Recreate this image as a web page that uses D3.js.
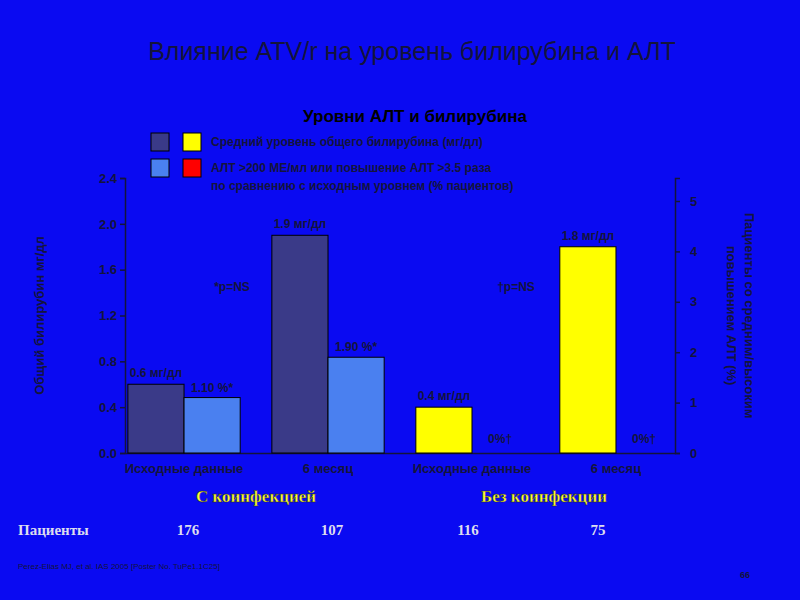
<!DOCTYPE html>
<html><head><meta charset="utf-8"><script src="https://cdn.jsdelivr.net/npm/d3@7"></script>
<style>body{margin:0;background:#0a0af2}svg{font-family:"Liberation Sans",Arial,sans-serif}</style></head>
<body><svg id="c" width="800" height="600"></svg>
<script>
const categories=["Исходные данные","6 месяц","Исходные данные","6 месяц"];
const bilirubin=[0.6,1.9,0.4,1.8];
const alt=[1.1,1.9,0,0];
const biliLabels=["0.6 мг/дл","1.9 мг/дл","0.4 мг/дл","1.8 мг/дл"];
const altLabels=["1.10 %*","1.90 %*","0%†","0%†"];
const groups=["С коинфекцией","Без коинфекции"];
const patients=[176,107,116,75];
const leftTicks=[0,0.4,0.8,1.2,1.6,2.0,2.4];
const rightTicks=[0,1,2,3,4,5];
const txt="#14143c";
const svg=d3.select("#c");
const L=125,R=675,T=178,B=453;
const x=d3.scaleBand().domain(d3.range(4)).range([L,R]).paddingInner(0.22).paddingOuter(0.02);
const x1=d3.scaleBand().domain([0,1]).range([0,x.bandwidth()]);
const y=d3.scaleLinear().domain([0,2.4]).range([B,T]);
const y2=d3.scaleLinear().domain([0,(B-T)/50.4]).range([B,T]);
svg.append("text").attr("x",412).attr("y",60).attr("text-anchor","middle").attr("font-size",25).attr("fill",txt).text("Влияние ATV/r на уровень билирубина и АЛТ");
svg.append("text").attr("x",415).attr("y",122).attr("text-anchor","middle").attr("font-size",17).attr("font-weight","bold").attr("fill","#000").text("Уровни АЛТ и билирубина");
const lg=[["#3a3a88","#ffff00",142,"Средний уровень общего билирубина (мг/дл)"],["#4a80f0","#ff0000",168,"АЛТ >200 МЕ/мл или повышение АЛТ >3.5 раза"]];
lg.forEach(d=>{svg.append("rect").attr("x",151).attr("y",d[2]-9).attr("width",18).attr("height",18).attr("fill",d[0]).attr("stroke","#000");
svg.append("rect").attr("x",183).attr("y",d[2]-9).attr("width",18).attr("height",18).attr("fill",d[1]).attr("stroke","#000");
svg.append("text").attr("x",211).attr("y",d[2]+4).attr("font-size",12).attr("font-weight","bold").attr("fill",txt).text(d[3]);});
svg.append("text").attr("x",211).attr("y",190).attr("font-size",12).attr("font-weight","bold").attr("fill",txt).text("по сравнению с исходным уровнем (% пациентов)");
const ga=svg.append("g").attr("transform",`translate(${L},0)`).call(d3.axisLeft(y).tickValues(leftTicks).tickFormat(d3.format(".1f")).tickSize(5));
const gr=svg.append("g").attr("transform",`translate(${R},0)`).call(d3.axisRight(y2).tickValues(rightTicks).tickFormat(d3.format("d")).tickSize(5).tickPadding(10));
const gb=svg.append("g").attr("transform",`translate(0,${B})`).call(d3.axisBottom(x).tickFormat(i=>categories[i]).tickSize(0));
[ga,gr,gb].forEach(g=>{g.selectAll("path,line").attr("stroke",txt).attr("stroke-width",1.5);g.selectAll("text").attr("fill",txt).attr("font-size",13).attr("font-weight","bold");});
gb.selectAll("text").attr("dy","1.3em");
const bc=(i)=>i<2?"#3a3a88":"#ffff00";
const ac=(i)=>i<2?"#4a80f0":"#ff0000";
d3.range(4).forEach(i=>{
 const bx=x(i)+x1(0),w=x1.bandwidth();
 svg.append("rect").attr("x",bx).attr("y",y(bilirubin[i])).attr("width",w).attr("height",B-y(bilirubin[i])).attr("fill",bc(i)).attr("stroke","#000");
 svg.append("text").attr("x",bx+w/2).attr("y",y(bilirubin[i])-7).attr("text-anchor","middle").attr("font-size",12).attr("font-weight","bold").attr("fill",txt).text(biliLabels[i]);
 const ax=x(i)+x1(1);
 if(alt[i]>0)svg.append("rect").attr("x",ax).attr("y",y2(alt[i])).attr("width",w).attr("height",B-y2(alt[i])).attr("fill",ac(i)).attr("stroke","#000");
 svg.append("text").attr("x",ax+w/2).attr("y",alt[i]>0?y2(alt[i])-6:y2(0)-10).attr("text-anchor","middle").attr("font-size",12).attr("font-weight","bold").attr("fill",txt).text(altLabels[i]);
});
svg.append("text").attr("x",232).attr("y",291).attr("text-anchor","middle").attr("font-size",12).attr("font-weight","bold").attr("fill",txt).text("*p=NS");
svg.append("text").attr("x",516).attr("y",291).attr("text-anchor","middle").attr("font-size",12).attr("font-weight","bold").attr("fill",txt).text("†p=NS");
svg.append("text").attr("transform",`translate(44,${(T+B)/2}) rotate(-90)`).attr("text-anchor","middle").attr("font-size",13).attr("font-weight","bold").attr("fill",txt).text("Общий билирубин мг/дл");
const rt=svg.append("text").attr("transform",`translate(745,${(T+B)/2}) rotate(90)`).attr("text-anchor","middle").attr("font-size",13).attr("font-weight","bold").attr("fill",txt);
rt.append("tspan").attr("x",0).attr("dy",0).text("Пациенты со средним/высоким");
rt.append("tspan").attr("x",0).attr("dy",18).text("повышением АЛТ (%)");
[[0,1],[2,3]].forEach((p,k)=>{const cx=(x(p[0])+x(p[1])+x.bandwidth())/2;
svg.append("text").attr("x",cx).attr("y",502).attr("text-anchor","middle").attr("font-family","Liberation Serif,serif").attr("font-size",17).attr("font-weight","bold").attr("fill","#ffff33").attr("stroke","#222").attr("stroke-width",0.4).text(groups[k]);});
svg.append("text").attr("x",18).attr("y",535).attr("font-family","Liberation Serif,serif").attr("font-size",15).attr("font-weight","bold").attr("fill","#ddddee").text("Пациенты");
const px=[188,332,468,598];
patients.forEach((p,i)=>svg.append("text").attr("x",px[i]).attr("y",535).attr("text-anchor","middle").attr("font-family","Liberation Serif,serif").attr("font-size",15).attr("font-weight","bold").attr("fill","#ddddee").text(p));
svg.append("text").attr("x",18).attr("y",569).attr("font-size",8).attr("fill",txt).text("Perez-Elias MJ, et al. IAS 2005 [Poster No. TuPe1.1C25]");
svg.append("text").attr("x",750).attr("y",578).attr("text-anchor","end").attr("font-size",9).attr("font-weight","bold").attr("fill",txt).text("66");
</script></body></html>
